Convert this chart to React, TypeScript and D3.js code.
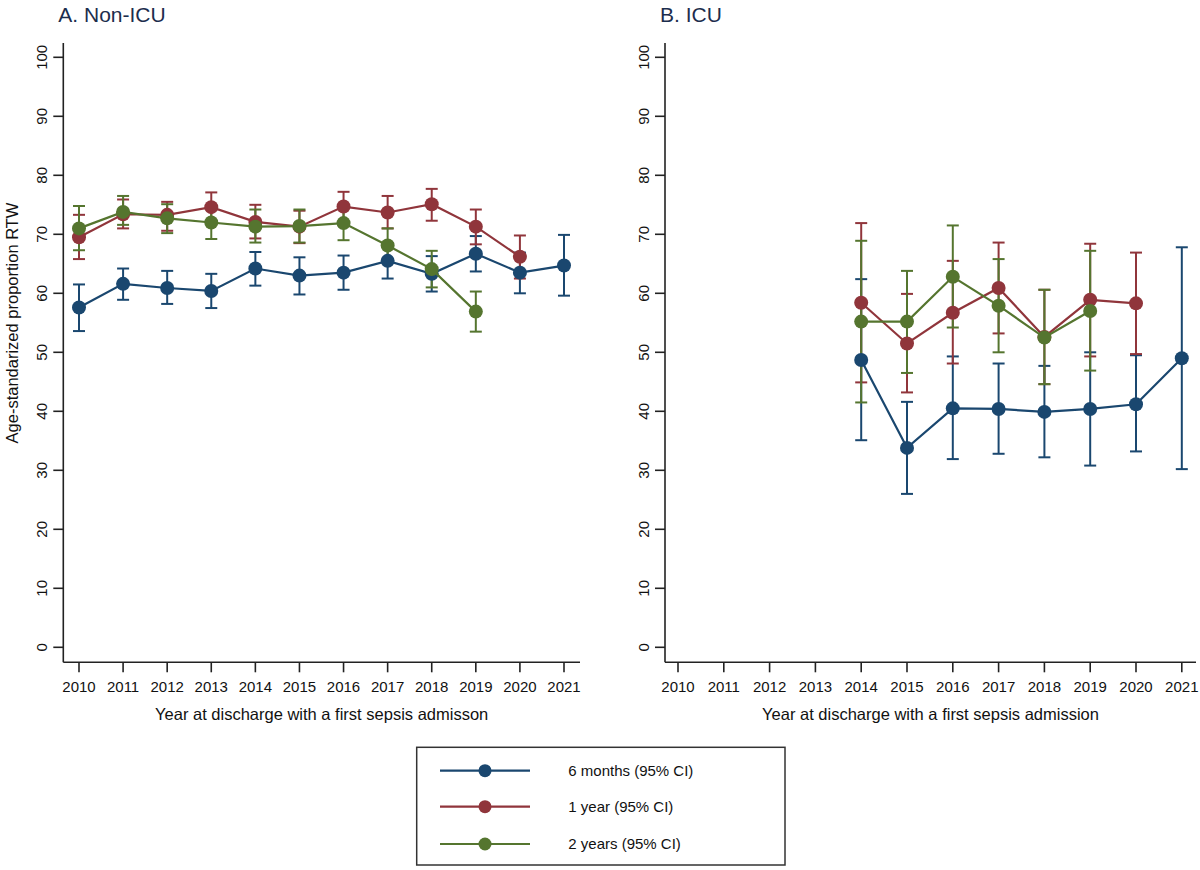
import React from "react";
import * as d3 from "d3";

const years = [2010, 2011, 2012, 2013, 2014, 2015, 2016, 2017, 2018, 2019, 2020, 2021];
const yTicks = [0, 10, 20, 30, 40, 50, 60, 70, 80, 90, 100];

// Panel A: Non-ICU
const a6m = [57.6, 61.6, 60.9, 60.4, 64.2, 63.0, 63.5, 65.5, 63.3, 66.7, 63.5, 64.7];
const a6mLo = [53.6, 58.9, 58.2, 57.5, 61.3, 59.8, 60.6, 62.5, 60.3, 63.7, 60.0, 59.6];
const a6mHi = [61.5, 64.2, 63.8, 63.3, 67.0, 66.1, 66.4, 68.5, 66.3, 69.7, 66.9, 69.9];
const a1y = [69.5, 73.4, 73.3, 74.6, 72.1, 71.3, 74.7, 73.7, 75.1, 71.3, 66.2, null];
const a1yLo = [65.8, 71.0, 70.6, 71.9, 69.3, 68.5, 72.0, 71.0, 72.3, 68.3, 62.5, null];
const a1yHi = [73.3, 75.9, 75.5, 77.1, 75.0, 74.0, 77.2, 76.5, 77.7, 74.2, 69.8, null];
const a2y = [71.0, 73.8, 72.7, 72.0, 71.3, 71.4, 71.9, 68.1, 64.1, 56.9, null, null];
const a2yLo = [67.3, 71.6, 70.2, 69.2, 68.6, 68.6, 69.0, 65.1, 61.0, 53.5, null, null];
const a2yHi = [74.8, 76.5, 75.1, 74.8, 74.2, 74.2, 74.7, 71.0, 67.2, 60.3, null, null];

// Panel B: ICU
const b6m = [null, null, null, null, 48.7, 33.8, 40.5, 40.4, 39.9, 40.4, 41.2, 49.0];
const b6mLo = [null, null, null, null, 35.1, 26.0, 31.9, 32.8, 32.2, 30.8, 33.2, 30.2];
const b6mHi = [null, null, null, null, 62.4, 41.6, 49.3, 48.1, 47.7, 50.0, 49.5, 67.8];
const b1y = [null, null, null, null, 58.4, 51.5, 56.7, 60.9, 52.6, 58.9, 58.3, null];
const b1yLo = [null, null, null, null, 44.9, 43.2, 48.1, 53.2, 44.6, 49.3, 49.7, null];
const b1yHi = [null, null, null, null, 71.9, 59.9, 65.5, 68.6, 60.6, 68.4, 66.9, null];
const b2y = [null, null, null, null, 55.2, 55.2, 62.8, 57.9, 52.5, 57.0, null, null];
const b2yLo = [null, null, null, null, 41.5, 46.5, 54.2, 50.0, 44.6, 46.9, null, null];
const b2yHi = [null, null, null, null, 68.9, 63.8, 71.5, 65.8, 60.6, 67.2, null, null];

const seriesLabels = ["6 months (95% CI)", "1 year (95% CI)", "2 years (95% CI)"];
const colors = ["#1a476f", "#90353b", "#55752f"];

const FONT = "'Liberation Sans', Arial, Helvetica, sans-serif";

type Series = { v: (number | null)[]; lo: (number | null)[]; hi: (number | null)[] };

const panelA: Series[] = [
  { v: a6m, lo: a6mLo, hi: a6mHi },
  { v: a1y, lo: a1yLo, hi: a1yHi },
  { v: a2y, lo: a2yLo, hi: a2yHi },
];
const panelB: Series[] = [
  { v: b6m, lo: b6mLo, hi: b6mHi },
  { v: b1y, lo: b1yLo, hi: b1yHi },
  { v: b2y, lo: b2yLo, hi: b2yHi },
];

const y = d3.scaleLinear().domain([0, 100]).range([647.3, 57.3]);

function Panel({
  series,
  axisX,
  axisRight,
  x0,
  x1,
  title,
  xTitle,
}: {
  series: Series[];
  axisX: number;
  axisRight: number;
  x0: number;
  x1: number;
  title: string;
  xTitle: string;
}) {
  const x = d3.scaleLinear().domain([2010, 2021]).range([x0, x1]);
  const axisY = 662.3;
  const cap = 6;
  const line = d3
    .line<number | null>()
    .defined((d) => d != null)
    .x((_, i) => x(years[i]))
    .y((d) => y(d as number));
  return (
    <g>
      <text x={axisX - 5} y={22} fontSize={21} fill="#1c2d4d" fontFamily={FONT}>
        {title}
      </text>
      {/* axes */}
      <line x1={axisX} x2={axisX} y1={43} y2={axisY} stroke="#222" strokeWidth={1.6} />
      <line x1={axisX} x2={axisRight} y1={axisY} y2={axisY} stroke="#222" strokeWidth={1.6} />
      {yTicks.map((t) => (
        <g key={t}>
          <line x1={axisX - 10} x2={axisX} y1={y(t)} y2={y(t)} stroke="#222" strokeWidth={1.6} />
          <text
            transform={`translate(${axisX - 16},${y(t)}) rotate(-90)`}
            textAnchor="middle"
            fontSize={15}
            fill="#111"
            fontFamily={FONT}
          >
            {t}
          </text>
        </g>
      ))}
      {years.map((yr) => (
        <g key={yr}>
          <line x1={x(yr)} x2={x(yr)} y1={axisY} y2={axisY + 10} stroke="#222" strokeWidth={1.6} />
          <text x={x(yr)} y={691.5} textAnchor="middle" fontSize={15} fill="#111" fontFamily={FONT}>
            {yr}
          </text>
        </g>
      ))}
      <text
        x={(axisX + axisRight) / 2}
        y={720}
        textAnchor="middle"
        fontSize={16.5}
        fill="#111"
        fontFamily={FONT}
      >
        {xTitle}
      </text>
      {/* CIs */}
      {series.map((s, si) =>
        years.map((yr, i) =>
          s.lo[i] != null && s.hi[i] != null ? (
            <g key={`ci${si}-${i}`} stroke={colors[si]} strokeWidth={2}>
              <line x1={x(yr)} x2={x(yr)} y1={y(s.lo[i] as number)} y2={y(s.hi[i] as number)} />
              <line x1={x(yr) - cap} x2={x(yr) + cap} y1={y(s.lo[i] as number)} y2={y(s.lo[i] as number)} />
              <line x1={x(yr) - cap} x2={x(yr) + cap} y1={y(s.hi[i] as number)} y2={y(s.hi[i] as number)} />
            </g>
          ) : null
        )
      )}
      {/* connected lines + markers */}
      {series.map((s, si) => (
        <g key={`s${si}`}>
          <path d={line(s.v) || ""} fill="none" stroke={colors[si]} strokeWidth={2.2} />
          {years.map((yr, i) =>
            s.v[i] != null ? (
              <circle key={i} cx={x(yr)} cy={y(s.v[i] as number)} r={7} fill={colors[si]} />
            ) : null
          )}
        </g>
      ))}
    </g>
  );
}

export default function App() {
  const legendRows = [770.7, 806.7, 844];
  return (
    <svg
      width={1200}
      height={870}
      style={{ position: "absolute", left: 0, top: 0, background: "#fff" }}
    >
      <rect x={0} y={0} width={1200} height={870} fill="#fff" />
      <text
        transform="translate(18,323) rotate(-90)"
        textAnchor="middle"
        fontSize={16.5}
        fill="#111"
        fontFamily={FONT}
      >
        Age-standarized proportion RTW
      </text>
      <Panel
        series={panelA}
        axisX={63.3}
        axisRight={580}
        x0={79}
        x1={564}
        title="A. Non-ICU"
        xTitle="Year at discharge with a first sepsis admisson"
      />
      <Panel
        series={panelB}
        axisX={665}
        axisRight={1196}
        x0={678}
        x1={1181.8}
        title="B. ICU"
        xTitle="Year at discharge with a first sepsis admission"
      />
      <rect x={416.7} y={747.3} width={368.3} height={117.7} fill="none" stroke="#333" strokeWidth={1.5} />
      {seriesLabels.map((lab, i) => (
        <g key={lab}>
          <line x1={440} x2={530} y1={legendRows[i]} y2={legendRows[i]} stroke={colors[i]} strokeWidth={2.2} />
          <circle cx={485} cy={legendRows[i]} r={6.5} fill={colors[i]} />
          <text x={568.3} y={legendRows[i] + 5.3} fontSize={15} fill="#111" fontFamily={FONT}>
            {lab}
          </text>
        </g>
      ))}
    </svg>
  );
}
